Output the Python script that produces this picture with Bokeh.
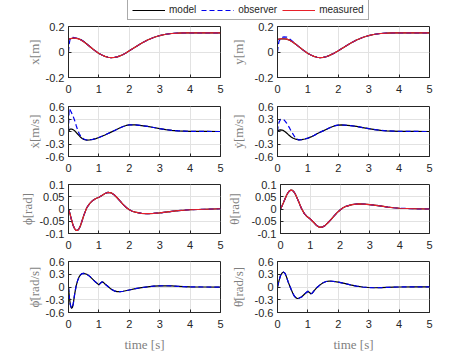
from bokeh.plotting import figure
from bokeh.layouts import column, row
from bokeh.models import FixedTicker, Range1d, Legend, LegendItem
from bokeh.embed import file_html
from bokeh.resources import INLINE

# ---------------- data ----------------
XTICKS = [0, 1, 2, 3, 4, 5]

POS_TICKS = [-0.2, 0, 0.2]
POS_LABELS = ["-0.2", "0", "0.2"]
VEL_TICKS = [-0.6, -0.3, 0, 0.3, 0.6]
VEL_LABELS = ["-0.6", "-0.3", "0", "0.3", "0.6"]
ANG_TICKS = [-0.1, -0.05, 0, 0.05, 0.1]
ANG_LABELS = ["-0.1", "-0.05", "0", "0.05", "0.1"]

t_pos = [0, 0.02, 0.05, 0.1, 0.15, 0.2, 0.3, 0.4, 0.5, 0.6, 0.7, 0.8, 0.9, 1.0, 1.1, 1.2, 1.3, 1.4,
         1.5, 1.6, 1.7, 1.8, 1.9, 2.0, 2.2, 2.4, 2.6, 2.8, 3.0, 3.2, 3.4, 3.6, 3.8, 4.0, 4.5, 5.0]
x_model = [0.100, 0.101, 0.103, 0.106, 0.108, 0.109, 0.106, 0.097, 0.082, 0.063, 0.043, 0.023, 0.005,
           -0.011, -0.024, -0.034, -0.041, -0.044, -0.043, -0.038, -0.030, -0.019, -0.006, 0.009,
           0.039, 0.068, 0.094, 0.114, 0.129, 0.139, 0.145, 0.148, 0.150, 0.150, 0.150, 0.150]
x_obs = [0.000, 0.060, 0.098, 0.112, 0.115, 0.112, 0.106, 0.097, 0.082, 0.063, 0.043, 0.023, 0.005,
         -0.011, -0.024, -0.034, -0.041, -0.044, -0.043, -0.038, -0.030, -0.019, -0.006, 0.009,
         0.039, 0.068, 0.094, 0.114, 0.129, 0.139, 0.145, 0.148, 0.150, 0.150, 0.150, 0.150]
x_meas = [0.100, 0.101, 0.104, 0.107, 0.109, 0.109, 0.105, 0.096, 0.081, 0.062, 0.043, 0.023, 0.005,
          -0.011, -0.024, -0.034, -0.041, -0.044, -0.043, -0.038, -0.030, -0.019, -0.006, 0.009,
          0.039, 0.068, 0.094, 0.114, 0.129, 0.139, 0.145, 0.148, 0.150, 0.150, 0.150, 0.150]

y_model = [0.100, 0.100, 0.101, 0.102, 0.103, 0.104, 0.101, 0.093, 0.079, 0.061, 0.042, 0.023, 0.005,
           -0.011, -0.024, -0.034, -0.041, -0.044, -0.042, -0.037, -0.028, -0.017, -0.004, 0.010,
           0.040, 0.069, 0.094, 0.114, 0.129, 0.139, 0.145, 0.148, 0.150, 0.150, 0.150, 0.150]
y_obs = [0.000, 0.045, 0.085, 0.105, 0.114, 0.118, 0.117, 0.103, 0.082, 0.062, 0.042, 0.023, 0.005,
         -0.011, -0.024, -0.034, -0.041, -0.044, -0.042, -0.037, -0.028, -0.017, -0.004, 0.010,
         0.040, 0.069, 0.094, 0.114, 0.129, 0.139, 0.145, 0.148, 0.150, 0.150, 0.150, 0.150]
y_meas = [0.100, 0.100, 0.101, 0.103, 0.104, 0.104, 0.101, 0.093, 0.079, 0.061, 0.042, 0.023, 0.005,
          -0.011, -0.024, -0.034, -0.041, -0.044, -0.042, -0.037, -0.028, -0.017, -0.004, 0.010,
          0.040, 0.069, 0.094, 0.114, 0.129, 0.139, 0.145, 0.148, 0.150, 0.150, 0.150, 0.150]

t_vel = [0, 0.02, 0.05, 0.1, 0.15, 0.2, 0.25, 0.3, 0.35, 0.4, 0.45, 0.5, 0.6, 0.7, 0.8, 0.9, 1.0, 1.1,
         1.2, 1.3, 1.4, 1.5, 1.6, 1.7, 1.8, 1.9, 2.0, 2.1, 2.2, 2.4, 2.6, 2.8, 3.0, 3.2, 3.4, 3.6,
         3.8, 4.0, 4.5, 5.0]
xd_model = [0.0, 0.03, 0.055, 0.06, 0.045, 0.02, -0.02, -0.06, -0.10, -0.14, -0.17, -0.19, -0.205,
            -0.20, -0.19, -0.17, -0.145, -0.115, -0.085, -0.05, -0.015, 0.02, 0.055, 0.09, 0.12,
            0.145, 0.158, 0.16, 0.157, 0.143, 0.122, 0.096, 0.068, 0.045, 0.028, 0.016, 0.009,
            0.005, 0.001, 0.0]
xd_obs = [0.0, 0.55, 0.52, 0.45, 0.37, 0.27, 0.15, 0.04, -0.05, -0.11, -0.15, -0.18, -0.205,
          -0.20, -0.19, -0.17, -0.145, -0.115, -0.085, -0.05, -0.015, 0.02, 0.055, 0.09, 0.12,
          0.145, 0.158, 0.16, 0.157, 0.143, 0.122, 0.096, 0.068, 0.045, 0.028, 0.016, 0.009,
          0.005, 0.001, 0.0]
yd_model = [0.0, 0.02, 0.035, 0.04, 0.035, 0.02, -0.005, -0.035, -0.07, -0.10, -0.13, -0.155, -0.185,
            -0.20, -0.195, -0.18, -0.16, -0.13, -0.095, -0.055, -0.02, 0.015, 0.05, 0.085, 0.115,
            0.14, 0.153, 0.157, 0.155, 0.142, 0.121, 0.095, 0.068, 0.045, 0.028, 0.016, 0.009,
            0.005, 0.001, 0.0]
yd_obs = [0.0, 0.12, 0.22, 0.29, 0.30, 0.29, 0.25, 0.20, 0.14, 0.08, 0.01, -0.05, -0.17,
          -0.20, -0.195, -0.18, -0.16, -0.13, -0.095, -0.055, -0.02, 0.015, 0.05, 0.085, 0.115,
          0.14, 0.153, 0.157, 0.155, 0.142, 0.121, 0.095, 0.068, 0.045, 0.028, 0.016, 0.009,
          0.005, 0.001, 0.0]

t_ang = [0, 0.05, 0.1, 0.15, 0.2, 0.25, 0.3, 0.35, 0.4, 0.45, 0.5, 0.6, 0.7, 0.8, 0.9, 1.0, 1.1, 1.2,
         1.3, 1.4, 1.5, 1.6, 1.7, 1.8, 1.9, 2.0, 2.1, 2.2, 2.4, 2.6, 2.8, 3.0, 3.2, 3.4, 3.6, 3.8,
         4.0, 4.5, 5.0]
phi_model = [0.0, -0.02, -0.045, -0.066, -0.08, -0.087, -0.087, -0.08, -0.066, -0.047, -0.027, 0.005,
             0.023, 0.035, 0.043, 0.048, 0.055, 0.063, 0.068, 0.066, 0.058, 0.046, 0.032, 0.018,
             0.006, -0.003, -0.009, -0.013, -0.018, -0.019, -0.018, -0.016, -0.013, -0.010, -0.007,
             -0.005, -0.003, -0.001, 0.001]
phi_obs = phi_model
phi_meas = phi_model
theta_model = [0.0, 0.012, 0.026, 0.041, 0.055, 0.066, 0.074, 0.077, 0.076, 0.07, 0.06, 0.033, 0.003,
               -0.019, -0.032, -0.041, -0.053, -0.066, -0.074, -0.074, -0.067, -0.055, -0.042,
               -0.028, -0.015, -0.004, 0.005, 0.011, 0.018, 0.021, 0.020, 0.018, 0.015, 0.012,
               0.008, 0.005, 0.003, 0.001, 0.0]
theta_obs = theta_model
theta_meas = theta_model

t_phid = [0, 0.03, 0.06, 0.1, 0.13, 0.16, 0.2, 0.25, 0.3, 0.35, 0.4, 0.45, 0.5, 0.6, 0.7, 0.8, 0.9,
          1.0, 1.05, 1.1, 1.15, 1.2, 1.3, 1.4, 1.5, 1.6, 1.7, 1.8, 2.0, 2.2, 2.4, 2.6, 2.8, 3.0,
          3.2, 3.4, 3.6, 3.8, 4.0, 4.5, 5.0]
phid_model = [0.0, -0.25, -0.42, -0.5, -0.48, -0.38, -0.18, 0.02, 0.15, 0.24, 0.29, 0.315, 0.32,
              0.30, 0.25, 0.18, 0.11, 0.05, 0.09, 0.12, 0.11, 0.07, 0.01, -0.05, -0.09, -0.11,
              -0.11, -0.10, -0.07, -0.04, -0.015, 0.005, 0.02, 0.028, 0.03, 0.025, 0.015, 0.008,
              0.003, 0.0, -0.005]
phid_obs = phid_model

t_thetad = [0, 0.05, 0.1, 0.15, 0.2, 0.25, 0.3, 0.35, 0.4, 0.45, 0.5, 0.55, 0.6, 0.65, 0.7, 0.8,
            0.9, 1.0, 1.05, 1.1, 1.15, 1.2, 1.3, 1.4, 1.5, 1.6, 1.7, 1.8, 2.0, 2.2, 2.4, 2.6, 2.8,
            3.0, 3.2, 3.4, 3.6, 3.8, 4.0, 4.5, 5.0]
thetad_model = [0.0, 0.15, 0.27, 0.33, 0.35, 0.32, 0.23, 0.12, 0.03, -0.06, -0.14, -0.21, -0.25,
                -0.27, -0.265, -0.23, -0.16, -0.10, -0.13, -0.16, -0.14, -0.09, -0.01, 0.05, 0.10,
                0.13, 0.14, 0.135, 0.115, 0.085, 0.05, 0.02, 0.0, -0.012, -0.018, -0.015, -0.01,
                -0.005, 0.0, 0.005, 0.005]
thetad_obs = thetad_model

SERIES_NAMES = ["model", "observer", "measured"]

# ---------------- styles ----------------
C_MODEL = "#000000"
C_OBS = "#0000ee"
C_MEAS = "#e8202a"
LW = 1.2
TICK_FONT = "Liberation Sans"
LABEL_FONT = "Liberation Serif"

LEFT_W, RIGHT_W = 224, 215
LEFT_BL, LEFT_BR = 68, 4
RIGHT_BL, RIGHT_BR = 53, 10


def panel(col, height, bt, bb, yr, yticks, ylabels, ylabel, xlabel=None):
    if col == 0:
        w, bl, br, standoff = LEFT_W, LEFT_BL, LEFT_BR, 1
    else:
        w, bl, br, standoff = RIGHT_W, RIGHT_BL, RIGHT_BR, 6
    p = figure(width=w, height=height, x_range=Range1d(0, 5), y_range=Range1d(*yr),
               output_backend="svg", toolbar_location=None,
               min_border_left=bl, min_border_right=br, min_border_top=bt, min_border_bottom=bb)
    p.xaxis.ticker = FixedTicker(ticks=XTICKS)
    p.yaxis.ticker = FixedTicker(ticks=yticks)
    p.yaxis.major_label_overrides = dict(zip(yticks, ylabels))
    for ax in (p.xaxis[0], p.yaxis[0]):
        ax.major_tick_in = 3
        ax.major_tick_out = 0
        ax.minor_tick_in = 0
        ax.minor_tick_out = 0
        ax.axis_line_color = "#262626"
        ax.major_tick_line_color = "#262626"
        ax.major_label_text_font = TICK_FONT
        ax.major_label_text_font_size = "11px"
        ax.major_label_text_color = "#262626"
        ax.axis_label_text_font = LABEL_FONT
        ax.axis_label_text_font_size = "13px"
        ax.axis_label_text_font_style = "normal"
        ax.axis_label_text_color = "#7f7f7f"
    p.xaxis.major_label_standoff = 7
    p.yaxis.major_label_standoff = 4
    p.yaxis.axis_label = ylabel
    p.yaxis.axis_label_standoff = standoff
    if xlabel:
        p.xaxis.axis_label = xlabel
        p.xaxis.axis_label_standoff = 6
    p.grid.grid_line_color = "#e2e2e2"
    p.grid.grid_line_width = 1
    p.outline_line_color = "#262626"
    p.outline_line_width = 1
    p.background_fill_color = "white"
    return p


def add_lines(p, t, model, obs, meas=None):
    p.line(t, model, line_color=C_MODEL, line_width=LW, line_join="round")
    p.line(t, obs, line_color=C_OBS, line_width=LW, line_dash="5 3", line_join="round")
    if meas is not None:
        p.line(t, meas, line_color=C_MEAS, line_width=LW, line_join="round")


# row 1
r1 = []
for col, (m, o, s, lab) in enumerate([(x_model, x_obs, x_meas, "x[m]"),
                                       (y_model, y_obs, y_meas, "y[m]")]):
    p = panel(col, 77, 6, 20, (-0.2, 0.2), POS_TICKS, POS_LABELS, lab)
    add_lines(p, t_pos, m, o, s)
    r1.append(p)

# row 2
r2 = []
for col, (m, o, lab) in enumerate([(xd_model, xd_obs, "\u1e8b[m/s]"),
                                    (yd_model, yd_obs, "\u1e8f[m/s]")]):
    p = panel(col, 79, 9, 20, (-0.6, 0.6), VEL_TICKS, VEL_LABELS, lab)
    add_lines(p, t_vel, m, o)
    r2.append(p)

# row 3
r3 = []
for col, (m, o, s, lab) in enumerate([(phi_model, phi_obs, phi_meas, "\u03d5[rad]"),
                                       (theta_model, theta_obs, theta_meas, "\u03b8[rad]")]):
    p = panel(col, 77, 8, 20, (-0.1, 0.1), ANG_TICKS, ANG_LABELS, lab)
    add_lines(p, t_ang, m, o, s)
    r3.append(p)

# row 4
r4 = []
for col, (t, m, o, lab) in enumerate([(t_phid, phid_model, phid_obs, "\u03d5\u0307[rad/s]"),
                                       (t_thetad, thetad_model, thetad_obs, "\u03b8\u0307[rad/s]")]):
    p = panel(col, 101, 8, 42, (-0.6, 0.6), VEL_TICKS, VEL_LABELS, lab, xlabel="time [s]")
    add_lines(p, t, m, o)
    r4.append(p)

# legend strip
leg = figure(width=LEFT_W + RIGHT_W, height=20, x_range=Range1d(0, 1), y_range=Range1d(0, 1),
             output_backend="svg", toolbar_location=None, x_axis_type=None, y_axis_type=None,
             min_border_left=0, min_border_right=0, min_border_top=0, min_border_bottom=0)
leg.grid.visible = False
leg.outline_line_color = None
# renderers only used for legend glyphs (their data lie outside the strip's visible range)
g1 = leg.line([5, 6], [5, 5], line_color=C_MODEL, line_width=LW)
g2 = leg.line([5, 6], [5, 5], line_color=C_OBS, line_width=LW, line_dash="5 3")
g3 = leg.line([5, 6], [5, 5], line_color=C_MEAS, line_width=LW)
legend = Legend(items=[LegendItem(label=SERIES_NAMES[0], renderers=[g1]),
                       LegendItem(label=SERIES_NAMES[1], renderers=[g2]),
                       LegendItem(label=SERIES_NAMES[2], renderers=[g3])],
                orientation="horizontal", location=(127, 0), padding=4, spacing=5,
                glyph_width=33, glyph_height=10, label_height=10, label_standoff=4, margin=0,
                label_text_font=TICK_FONT, label_text_font_size="10px",
                label_text_color="#262626", border_line_color="#555555",
                border_line_width=1, background_fill_color="white", background_fill_alpha=1)
leg.add_layout(legend, "center")

layout = column(leg, row(*r1), row(*r2), row(*r3), row(*r4))

open("out.html", "w").write(file_html(layout, INLINE))
